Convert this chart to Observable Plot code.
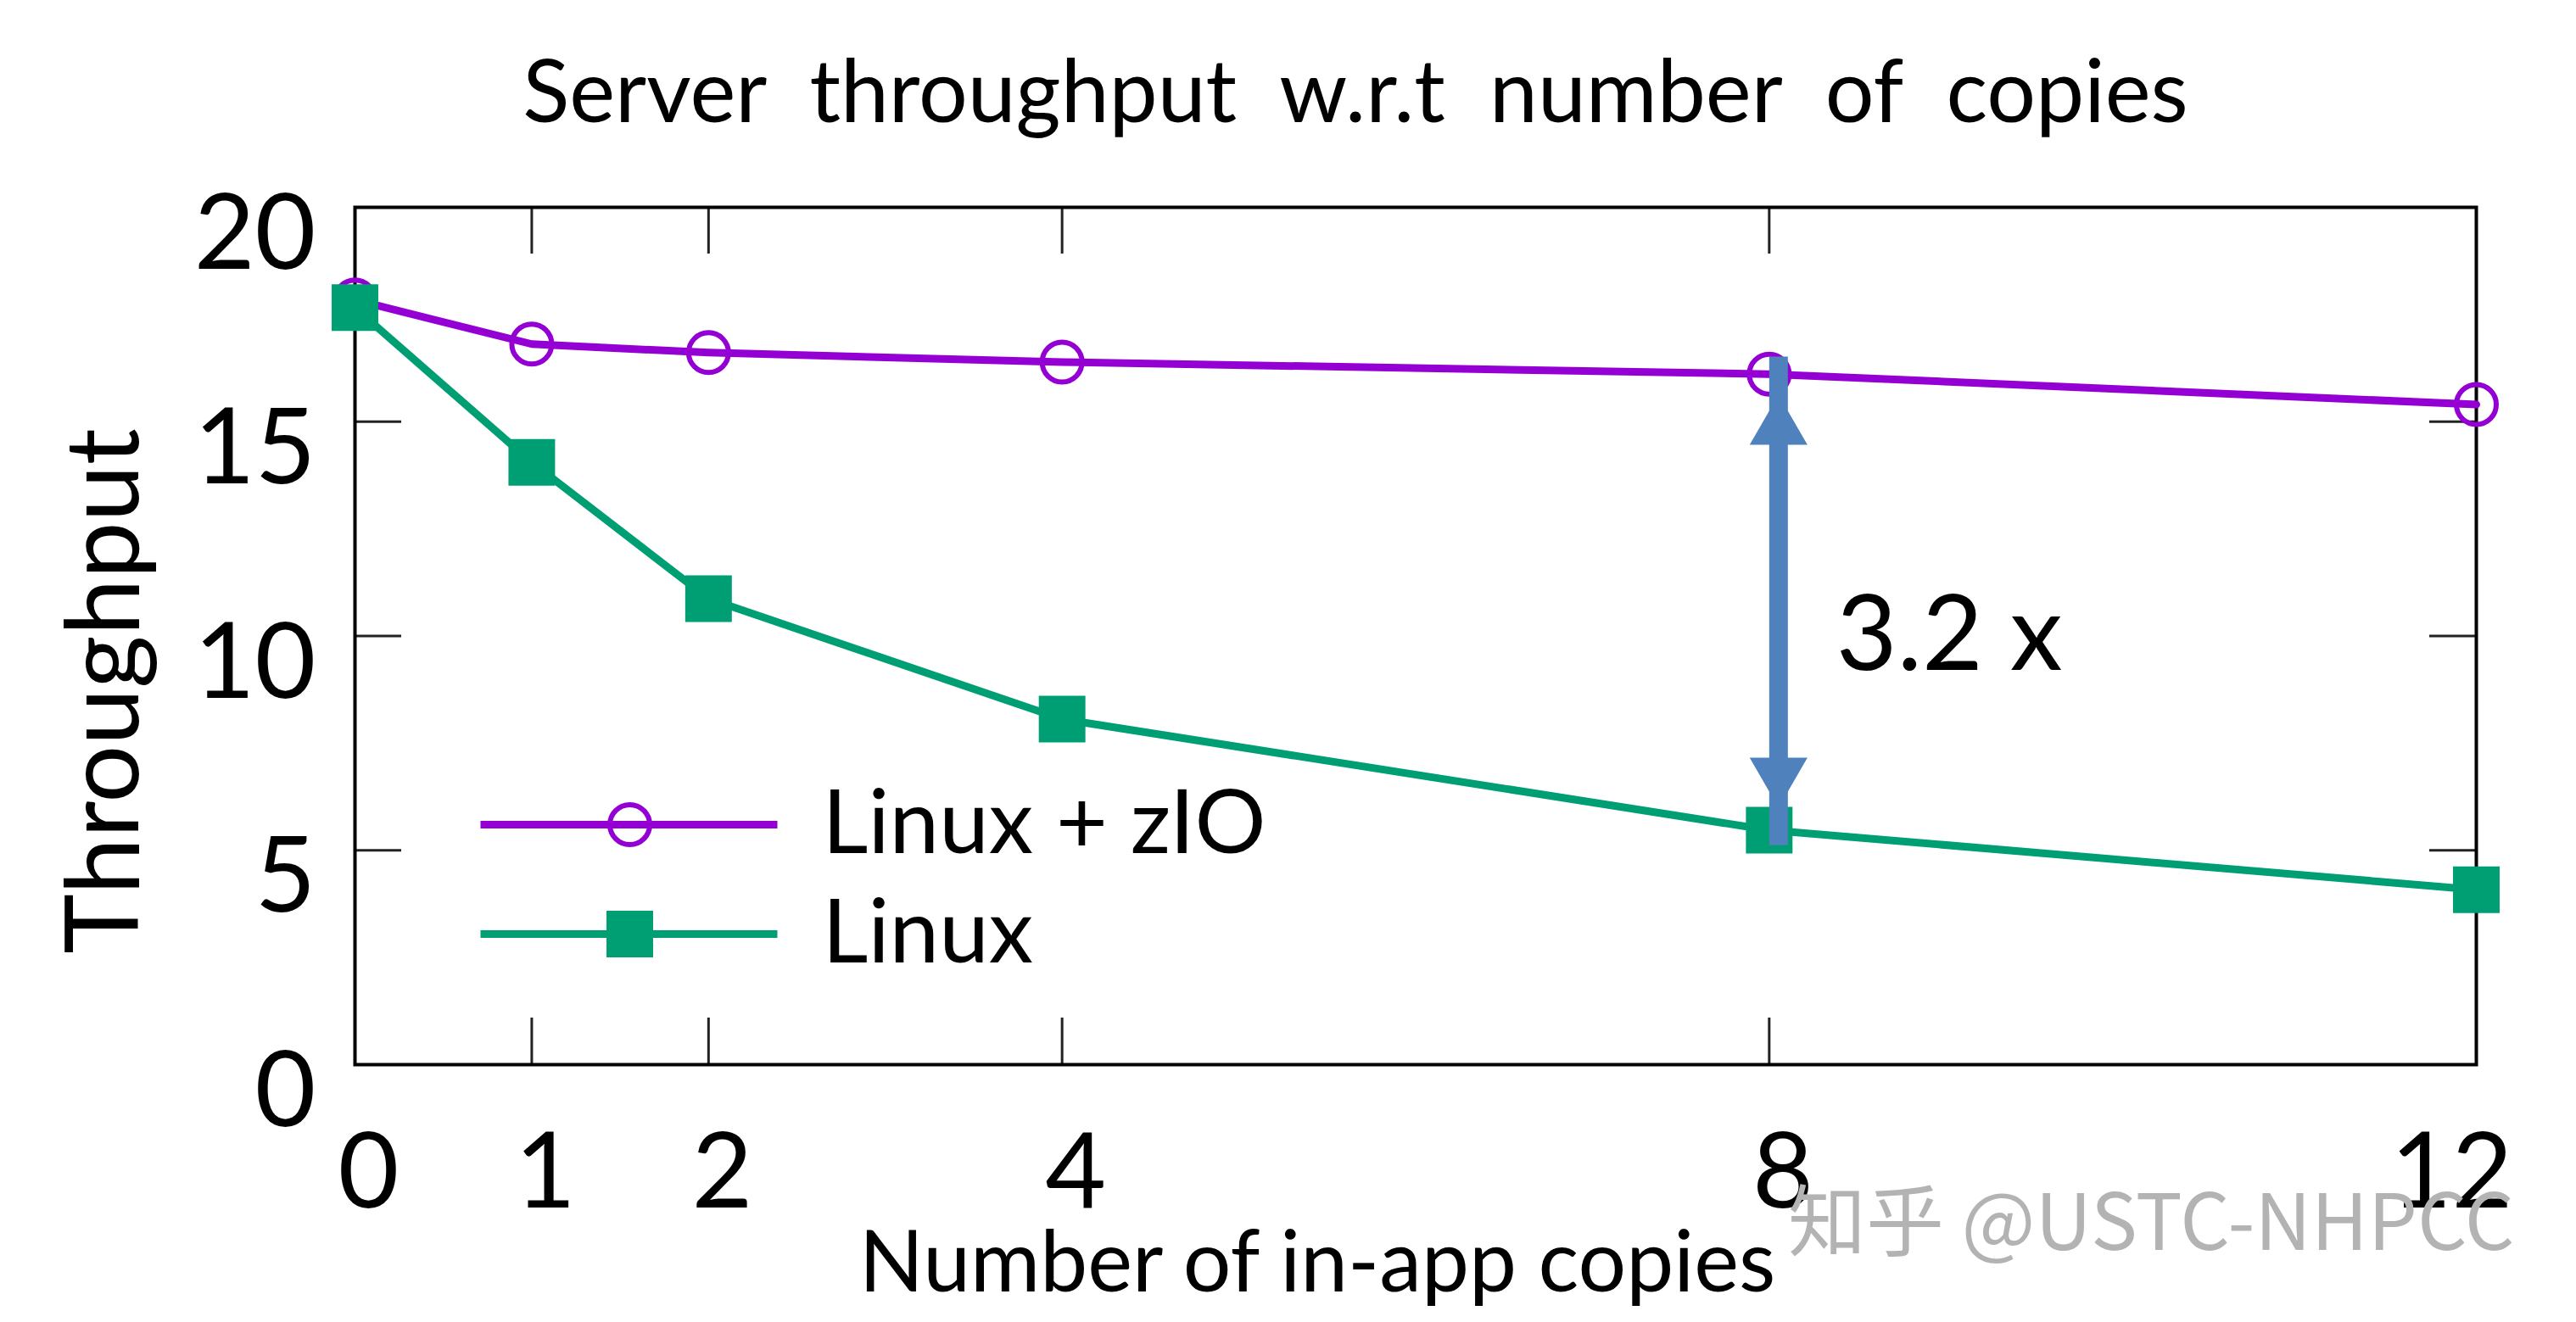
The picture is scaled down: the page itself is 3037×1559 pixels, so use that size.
<!DOCTYPE html>
<html><head><meta charset="utf-8">
<script src="https://cdn.jsdelivr.net/npm/d3@7"></script>
<script src="https://cdn.jsdelivr.net/npm/@observablehq/plot@0.6"></script>
<style>
html,body{margin:0;padding:0;background:#fff;}
#wrap{width:3037px;height:1559px;position:relative;overflow:hidden;font-family:Lato,sans-serif;background:#fff;}
#title{position:absolute;left:1598px;top:54px;transform:translateX(-50%);font-size:102px;line-height:1;white-space:nowrap;color:#000;word-spacing:26px;}
#chart{position:absolute;left:0;top:170px;}
</style></head><body>
<div id="wrap"><div id="title">Server throughput w.r.t number of copies</div><div id="chart"></div></div>
<script>
// ---- data ----
const copies = [0, 1, 2, 4, 8, 12];
const zioThroughput = [17.84, 16.81, 16.61, 16.39, 16.11, 15.40];
const linuxThroughput = [17.66, 14.05, 10.87, 8.06, 5.47, 4.08];
const seriesNames = ["Linux + zIO", "Linux"];
const seriesColors = ["#9400D3", "#009E73"];
const xTicks = [0, 1, 2, 4, 8, 12];
const yTicks = [0, 5, 10, 15, 20];
const speedupX = 8;
const speedupLow = 6.0;
const speedupHigh = 15.62;
const speedupLabel = "3.2 x";
const speedupLabelY = 9.2;
const xLabel = "Number of in-app copies";
const yLabel = "Throughput";
const watermark = "知乎 @USTC-NHPCC";

// ---- layout ----
const W = 3037, H = 1389;
const mL = 418, mR = 118, mT = 74, mB = 304;
const frameW = W - mL - mR, frameH = H - mT - mB;
const tickLen = 55;

const rows = [
  ...copies.map((c, i) => ({series: seriesNames[0], copies: c, value: zioThroughput[i]})),
  ...copies.map((c, i) => ({series: seriesNames[1], copies: c, value: linuxThroughput[i]}))
];
const zioRows = rows.filter(d => d.series === seriesNames[0]);
const linuxRows = rows.filter(d => d.series === seriesNames[1]);

const legendLine = {draw(ctx) { ctx.moveTo(-175, 0); ctx.lineTo(175, 0); }};
const arrowColor = "#4F81BD";
const circleR = 23.5, circleSW = 6, squareR = 31, lineSW = 9;

const legendMarks = seriesNames.flatMap((name, i) => {
  const dy = 728 + i * 129;
  const col = seriesColors[i];
  return [
    Plot.dot([name], {frameAnchor: "top-left", dx: 323, dy, symbol: legendLine, r: 1, stroke: col, strokeWidth: lineSW, fill: "none"}),
    i === 0
      ? Plot.dot([name], {frameAnchor: "top-left", dx: 324, dy, symbol: "circle", r: circleR, stroke: col, strokeWidth: circleSW, fill: "none"})
      : Plot.dot([name], {frameAnchor: "top-left", dx: 324, dy, symbol: "square", r: squareR, fill: col, stroke: "none"}),
    Plot.text([name], {frameAnchor: "top-left", dx: 551, dy, text: d => d, textAnchor: "start", lineAnchor: "middle", fontSize: 105, fill: "#000"})
  ];
});

const lastTick = xTicks[xTicks.length - 1];

const chart = Plot.plot({
  width: W, height: H,
  marginLeft: mL, marginRight: mR, marginTop: mT, marginBottom: mB,
  style: {fontFamily: "Lato, sans-serif", background: "transparent", color: "#000"},
  x: {domain: [0, 12]},
  y: {domain: [0, 20]},
  color: {domain: seriesNames, range: seriesColors},
  marks: [
    // inward ticks on four sides
    Plot.ruleX(xTicks, {x: d => d, insetTop: frameH - tickLen, stroke: "#222", strokeWidth: 3}),
    Plot.ruleX(xTicks, {x: d => d, insetBottom: frameH - tickLen, stroke: "#222", strokeWidth: 3}),
    Plot.ruleY(yTicks, {y: d => d, insetRight: frameW - tickLen, stroke: "#222", strokeWidth: 3}),
    Plot.ruleY(yTicks, {y: d => d, insetLeft: frameW - tickLen, stroke: "#222", strokeWidth: 3}),
    Plot.frame({stroke: "#000", strokeWidth: 4}),
    Plot.axisX(xTicks.filter(t => t !== lastTick), {tickSize: 0, tickPadding: 80, fontSize: 124, dx: 16, label: null, tickFormat: d => String(d)}),
    Plot.axisX([lastTick], {tickSize: 0, tickPadding: 80, fontSize: 124, dx: -29, label: null, tickFormat: d => String(d)}),
    Plot.axisY({ticks: yTicks, tickSize: 0, tickPadding: 46, fontSize: 124, dy: 33, label: null, tickFormat: d => String(d)}),
    // series lines
    Plot.line(rows, {x: "copies", y: "value", z: "series", stroke: "series", strokeWidth: lineSW}),
    Plot.dot(zioRows, {x: "copies", y: "value", symbol: "circle", r: circleR, stroke: "series", strokeWidth: circleSW, fill: "none"}),
    Plot.dot(linuxRows, {x: "copies", y: "value", symbol: "square", r: squareR, fill: "series", stroke: "none"}),
    // speedup arrow
    Plot.ruleX([speedupX], {x: d => d, y1: speedupLow, y2: speedupHigh, insetTop: 45, insetBottom: 45, stroke: arrowColor, strokeWidth: 22, dx: 11}),
    Plot.dot([speedupX], {x: d => d, y: speedupHigh, symbol: "triangle", r: 25.3, fill: arrowColor, stroke: "none", dx: 11, dy: 39}),
    Plot.dot([speedupX], {x: d => d, y: speedupLow, symbol: "triangle", r: 25.3, rotate: 180, fill: arrowColor, stroke: "none", dx: 11, dy: -39}),
    Plot.text([speedupLabel], {x: () => speedupX, y: () => speedupLabelY, text: d => d, textAnchor: "start", lineAnchor: "bottom", dx: 79, fontSize: 124, fill: "#000"}),
    // axis titles
    Plot.text([xLabel], {frameAnchor: "bottom", text: d => d, textAnchor: "middle", lineAnchor: "bottom", dy: 267, dx: -116, fontSize: 100, fill: "#000"}),
    Plot.text([yLabel], {frameAnchor: "left", text: d => d, rotate: -90, textAnchor: "middle", lineAnchor: "bottom", dx: -256, dy: 65, fontSize: 120, fill: "#000"}),
    ...legendMarks,
    // watermark
    Plot.text([watermark], {frameAnchor: "bottom-right", text: d => d, textAnchor: "end", lineAnchor: "bottom", dx: 45, dy: 218, fontSize: 92, fill: "#b3b3b3", fontFamily: "'Noto Sans CJK SC', sans-serif"})
  ]
});
document.getElementById("chart").appendChild(chart);
</script>
</body></html>
